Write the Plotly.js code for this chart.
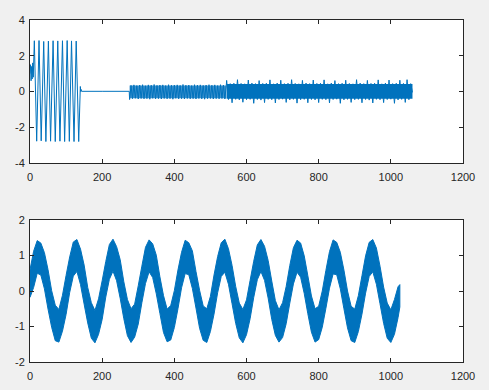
<!DOCTYPE html>
<html>
<head>
<meta charset="utf-8">
<script src="https://cdn.plot.ly/plotly-3.0.1.min.js"></script>
<style>
  html, body { margin: 0; padding: 0; background: #f0f0f0; }
  #chart { width: 489px; height: 390px; }
</style>
</head>
<body>
<div id="chart"></div>
<script>
// ---------- top subplot data ----------
// burst, decay and flat segment
const burstX = [0, 1.5, 3, 4.5, 6, 7.5, 9,
  12, 18.5, 25, 31, 38, 44, 51, 57, 64, 70, 77, 83, 90, 96, 103, 109, 115, 122, 128, 135,
  139.5, 140.5, 141.5, 143, 200, 275];
const burstY = [1.0, 1.5, 0.6, 1.4, 0.7, 1.6, 0.8,
  2.84, -2.78, 2.85, -2.76, 2.8, -2.8, 2.82, -2.78, 2.84, -2.8, 2.83, -2.78, 2.84, -2.8, 2.85, -2.79, 2.83, -2.8, 2.82, -2.8,
  0.28, 0.0, 0.12, 0.01, 0.01, 0.01];

// small dense oscillation (275 - 545)
const midX = [276, 280, 284, 288, 292, 296, 300, 304, 308, 312,
  316, 320, 324, 328, 332, 336, 340, 344, 348, 352,
  356, 360, 364, 368, 372, 376, 380, 384, 388, 392,
  396, 400, 404, 408, 412, 416, 420, 424, 428, 432,
  436, 440, 444, 448, 452, 456, 460, 464, 468, 472,
  476, 480, 484, 488, 492, 496, 500, 504, 508, 512,
  516, 520, 524, 528, 532, 536, 540, 544];
const midY = [-0.45, 0.34, -0.40, 0.37, -0.38, 0.33, -0.42, 0.36, -0.39, 0.38,
  -0.41, 0.32, -0.40, 0.37, -0.43, 0.35, -0.38, 0.39, -0.41, 0.34,
  -0.40, 0.36, -0.42, 0.37, -0.39, 0.33, -0.41, 0.38, -0.40, 0.35,
  -0.43, 0.36, -0.38, 0.37, -0.41, 0.34, -0.40, 0.39, -0.42, 0.35,
  -0.39, 0.36, -0.41, 0.33, -0.40, 0.38, -0.42, 0.36, -0.39, 0.37,
  -0.41, 0.34, -0.43, 0.36, -0.40, 0.38, -0.39, 0.35, -0.42, 0.37,
  -0.40, 0.33, -0.41, 0.38, -0.39, 0.36, -0.42, 0.35];

// core of the small oscillation band
const midCoreX = [276, 544];
const midCoreHi = [0.33, 0.33];
const midCoreLo = [-0.38, -0.38];

// larger dense oscillation (545 - 1060)
const lateX = [545, 550, 555, 560, 565, 570, 575, 580, 585, 590,
  595, 600, 605, 610, 615, 620, 625, 630, 635, 640,
  645, 650, 655, 660, 665, 670, 675, 680, 685, 690,
  695, 700, 705, 710, 715, 720, 725, 730, 735, 740,
  745, 750, 755, 760, 765, 770, 775, 780, 785, 790,
  795, 800, 805, 810, 815, 820, 825, 830, 835, 840,
  845, 850, 855, 860, 865, 870, 875, 880, 885, 890,
  895, 900, 905, 910, 915, 920, 925, 930, 935, 940,
  945, 950, 955, 960, 965, 970, 975, 980, 985, 990,
  995, 1000, 1005, 1010, 1015, 1020, 1025, 1030, 1035, 1040,
  1045, 1050, 1055, 1060];
const lateY = [0.62, -0.45, 0.44, -0.63, 0.46, -0.44, 0.66, -0.47, 0.45, -0.60,
  0.43, -0.46, 0.64, -0.44, 0.47, -0.66, 0.44, -0.45, 0.61, -0.48,
  0.45, -0.62, 0.46, -0.44, 0.65, -0.46, 0.43, -0.64, 0.47, -0.45,
  0.63, -0.43, 0.44, -0.61, 0.46, -0.47, 0.66, -0.44, 0.45, -0.65,
  0.43, -0.46, 0.62, -0.44, 0.47, -0.63, 0.44, -0.45, 0.64, -0.47,
  0.45, -0.62, 0.46, -0.44, 0.65, -0.46, 0.43, -0.64, 0.47, -0.45,
  0.61, -0.43, 0.44, -0.66, 0.46, -0.47, 0.63, -0.44, 0.45, -0.61,
  0.43, -0.46, 0.66, -0.44, 0.47, -0.63, 0.44, -0.45, 0.62, -0.48,
  0.45, -0.64, 0.46, -0.44, 0.65, -0.46, 0.43, -0.62, 0.47, -0.45,
  0.64, -0.43, 0.44, -0.66, 0.46, -0.47, 0.63, -0.44, 0.45, -0.61,
  0.66, -0.46, 0.44, -0.05];

// solid core of the late oscillation band
const lateCoreX = [545, 1060];
const lateCoreHi = [0.42, 0.42];
const lateCoreLo = [-0.40, -0.40];

// ---------- bottom subplot data (noisy sine band envelopes) ----------
const bandX = [0, 10, 20, 30, 40, 50, 60, 70, 80, 90,
  100, 110, 120, 130, 140, 150, 160, 170, 180, 190,
  200, 210, 220, 230, 240, 250, 260, 270, 280, 290,
  300, 310, 320, 330, 340, 350, 360, 370, 380, 390,
  400, 410, 420, 430, 440, 450, 460, 470, 480, 490,
  500, 510, 520, 530, 540, 550, 560, 570, 580, 590,
  600, 610, 620, 630, 640, 650, 660, 670, 680, 690,
  700, 710, 720, 730, 740, 750, 760, 770, 780, 790,
  800, 810, 820, 830, 840, 850, 860, 870, 880, 890,
  900, 910, 920, 930, 940, 950, 960, 970, 980, 990,
  1000, 1010, 1020, 1025];
const bandUpper = [0.60, 1.12, 1.42, 1.35, 1.08, 0.60, 0.01, -0.40, -0.52, -0.12,
  0.44, 0.96, 1.38, 1.45, 1.18, 0.73, 0.10, -0.33, -0.55, -0.22,
  0.29, 0.83, 1.31, 1.46, 1.25, 0.88, 0.26, -0.24, -0.50, -0.37,
  0.15, 0.70, 1.23, 1.44, 1.33, 1.01, 0.40, -0.13, -0.51, -0.41,
  0.01, 0.59, 1.09, 1.43, 1.36, 1.13, 0.55, 0.02, -0.42, -0.50,
  -0.15, 0.45, 0.97, 1.36, 1.46, 1.19, 0.72, 0.13, -0.34, -0.52,
  -0.25, 0.30, 0.84, 1.30, 1.45, 1.26, 0.86, 0.28, -0.27, -0.53,
  -0.33, 0.13, 0.72, 1.22, 1.43, 1.35, 0.99, 0.43, -0.14, -0.50,
  -0.43, 0.00, 0.58, 1.11, 1.44, 1.37, 1.09, 0.59, 0.00, -0.43,
  -0.51, -0.13, 0.43, 0.99, 1.37, 1.45, 1.21, 0.70, 0.11, -0.34,
  -0.53, -0.24, 0.12, 0.18];
const bandLower = [-0.18, 0.10, 0.50, 0.45, 0.06, -0.51, -1.02, -1.40, -1.44, -1.13,
  -0.66, -0.04, 0.42, 0.55, 0.18, -0.37, -0.90, -1.33, -1.46, -1.22,
  -0.80, -0.17, 0.33, 0.56, 0.29, -0.21, -0.78, -1.26, -1.45, -1.30,
  -0.93, -0.33, 0.21, 0.54, 0.38, -0.08, -0.63, -1.17, -1.43, -1.38,
  -1.03, -0.50, 0.09, 0.49, 0.46, 0.07, -0.48, -1.05, -1.39, -1.45,
  -1.14, -0.65, -0.05, 0.41, 0.53, 0.19, -0.36, -0.91, -1.32, -1.46,
  -1.23, -0.78, -0.18, 0.32, 0.55, 0.30, -0.20, -0.80, -1.25, -1.44,
  -1.31, -0.92, -0.34, 0.20, 0.53, 0.39, -0.07, -0.64, -1.16, -1.44,
  -1.37, -1.02, -0.49, 0.08, 0.48, 0.46, 0.06, -0.50, -1.04, -1.40,
  -1.45, -1.14, -0.65, -0.06, 0.41, 0.54, 0.19, -0.36, -0.91, -1.33,
  -1.45, -1.22, -0.75, -0.45];

// ---------- ticks ----------
const xTickVals = [0, 200, 400, 600, 800, 1000, 1200];
const xTickText = ['0', '200', '400', '600', '800', '1000', '1200'];
const yTopTickVals = [-4, -2, 0, 2, 4];
const yTopTickText = ['-4', '-2', '0', '2', '4'];
const yBotTickVals = [-2, -1, 0, 1, 2];
const yBotTickText = ['-2', '-1', '0', '1', '2'];

// ---------- build traces ----------
const blue = '#0072BD';
const topX = burstX.concat(midX, lateX);
const topY = burstY.concat(midY, lateY);

function band(xs, hi, lo, axX, axY, color, lw) {
  return { x: xs.concat(xs.slice().reverse()), y: hi.concat(lo.slice().reverse()),
    type: 'scatter', mode: 'lines', fill: 'toself', fillcolor: color,
    line: { color: color, width: lw, simplify: false }, xaxis: axX, yaxis: axY, hoverinfo: 'skip' };
}

const traces = [
  band(midCoreX, midCoreHi, midCoreLo, 'x', 'y', '#3f93cf', 0),
  { x: topX, y: topY, type: 'scatter', mode: 'lines',
    line: { color: blue, width: 1, simplify: false }, xaxis: 'x', yaxis: 'y', hoverinfo: 'skip' },
  band(lateCoreX, lateCoreHi, lateCoreLo, 'x', 'y', blue, 0),
  band(bandX, bandUpper, bandLower, 'x2', 'y2', blue, 1)
];

const tickFont = { family: 'Liberation Sans, Arial, sans-serif', size: 11, color: '#262626' };
function axisBase() {
  return {
    showgrid: false, zeroline: false, showline: true, mirror: 'ticks',
    linecolor: '#262626', linewidth: 1,
    ticks: 'inside', ticklen: 4, tickwidth: 1, tickcolor: '#262626',
    tickfont: tickFont, tickmode: 'array', fixedrange: true
  };
}
const xDom = [30 / 489, 463 / 489];

const layout = {
  width: 489, height: 390,
  margin: { l: 0, r: 0, t: 0, b: 0 },
  paper_bgcolor: '#f0f0f0', plot_bgcolor: '#ffffff',
  showlegend: false,
  xaxis: Object.assign(axisBase(), { domain: xDom, range: [0, 1200], anchor: 'y',
    tickvals: xTickVals, ticktext: xTickText, ticklabelstandoff: 4 }),
  yaxis: Object.assign(axisBase(), { domain: [(390 - 163) / 390, (390 - 20) / 390], range: [-4, 4], anchor: 'x',
    tickvals: yTopTickVals, ticktext: yTopTickText, ticklabelstandoff: 2 }),
  xaxis2: Object.assign(axisBase(), { domain: xDom, range: [0, 1200], anchor: 'y2',
    tickvals: xTickVals, ticktext: xTickText, ticklabelstandoff: 4 }),
  yaxis2: Object.assign(axisBase(), { domain: [(390 - 362) / 390, (390 - 220) / 390], range: [-2, 2], anchor: 'x2',
    tickvals: yBotTickVals, ticktext: yBotTickText, ticklabelstandoff: 2 })
};

Plotly.newPlot('chart', traces, layout, { displayModeBar: false, staticPlot: true });
</script>
</body>
</html>
